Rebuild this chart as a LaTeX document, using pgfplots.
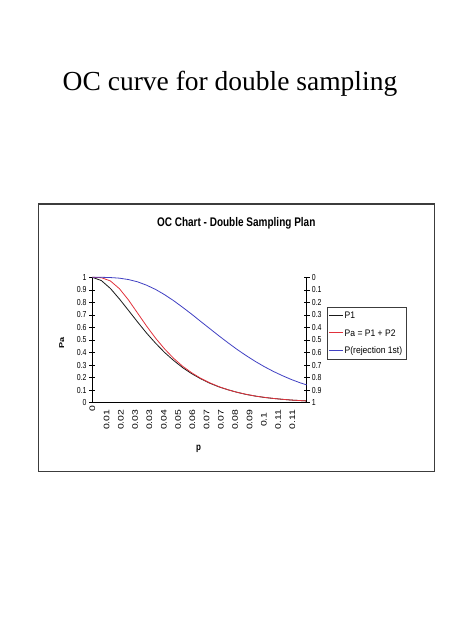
\documentclass[border=0pt]{standalone}
\usepackage{fontspec}
\usepackage{pgfplots}
\pgfplotsset{compat=1.18}
\usepackage{pgfplotstable}
\setmainfont{Liberation Sans}
\newfontfamily\slidefont{Liberation Serif}
\newfontfamily\cfn{Liberation Sans}[FakeStretch=0.8]
\newfontfamily\cfl{Liberation Sans}[FakeStretch=0.9]
\newfontfamily\cfr{Liberation Sans}[FakeStretch=1.3]

\definecolor{pone}{RGB}{25,25,25}
\definecolor{pa}{RGB}{225,50,60}
\definecolor{prej}{RGB}{65,65,195}
\definecolor{framec}{RGB}{60,60,60}

% p, P1 (accept on 1st sample), Pa = P1 + P2, P(rejection on 1st sample)
\pgfplotstableread{
p      P1     Pa     Rej
0      1.000  1.000  0.000
0.005  0.974  0.997  0.000
0.010  0.911  0.971  0.002
0.015  0.827  0.909  0.007
0.020  0.736  0.819  0.018
0.025  0.644  0.715  0.036
0.030  0.555  0.611  0.063
0.035  0.474  0.514  0.097
0.040  0.400  0.428  0.139
0.045  0.336  0.353  0.187
0.050  0.279  0.290  0.240
0.055  0.231  0.238  0.295
0.060  0.190  0.194  0.353
0.065  0.155  0.158  0.410
0.070  0.126  0.128  0.467
0.075  0.103  0.103  0.522
0.080  0.083  0.083  0.575
0.085  0.066  0.067  0.624
0.090  0.053  0.053  0.670
0.095  0.042  0.043  0.712
0.100  0.034  0.034  0.750
0.105  0.027  0.027  0.784
0.110  0.021  0.021  0.815
0.115  0.017  0.017  0.842
0.1185 0.014  0.014  0.858
}\octable

% legend key: a short coloured rule in front of the entry text
\newcommand{\key}[1]{\textcolor{#1}{\rule[2.9pt]{14pt}{0.9pt}}\hspace{1.7pt}}

\pgfplotsset{
  ocbase/.style={
    scale only axis, width=214.4pt, height=125.4pt,
    xmin=0, xmax=0.1185, ymin=0, ymax=1,
    clip=false,
    tick align=center, major tick length=6pt,
    tick style={black, line width=0.6pt},
    axis line style={black, line width=0.8pt},
    ytick={0,0.1,0.2,0.3,0.4,0.5,0.6,0.7,0.8,0.9,1},
    yticklabels={0,0.1,0.2,0.3,0.4,0.5,0.6,0.7,0.8,0.9,1},
  },
}

\begin{document}
\begin{tikzpicture}
\path[use as bounding box] (0pt,0pt) rectangle (474pt,631pt);

\node[anchor=base, font=\slidefont\fontsize{27.5}{30}\selectfont] at (230pt,540.3pt) {OC curve for double sampling};
\draw[framec, line width=1.3pt] (38.3pt,159.3pt) rectangle (434.3pt,427pt);
\node[anchor=base, font=\cfn\bfseries\fontsize{12.5}{14}\selectfont] at (236.2pt,404pt) {OC Chart - Double Sampling Plan};
\node[rotate=90, font=\cfr\bfseries\fontsize{7}{8}\selectfont] at (61.7pt,287.7pt) {Pa};
\node[font=\cfn\bfseries\fontsize{10}{11}\selectfont] at (198.5pt,182pt) {p};
% legend frame
\draw[framec, line width=0.9pt] (327.3pt,271.5pt) rectangle (406.5pt,323.3pt);

\begin{axis}[
  ocbase,
  at={(92.3pt,228.3pt)}, anchor=south west,
  axis x line*=bottom, axis y line*=left,
  xtick={0,0.0079,0.0158,0.0237,0.0316,0.0395,0.0474,0.0553,0.0632,0.0711,0.079,0.0869,0.0948,0.1027,0.1106},
  xticklabels={\hspace*{22pt}0,0.01,0.02,0.03,0.03,0.04,0.05,0.06,0.07,0.07,0.08,0.09,0.1,0.11,0.11},
  x tick style={draw=none},
  xticklabel style={yshift=-14pt, rotate=90, anchor=center, inner sep=0pt, font=\cfr\fontsize{8}{8}\selectfont},
  yticklabel style={anchor=east, inner sep=0pt, xshift=-2.5pt, font=\cfn\fontsize{8.7}{9}\selectfont},
]
\addplot[color=pone, line width=0.8pt] table[x=p, y=P1] {\octable};
\addplot[color=pa, line width=0.8pt] table[x=p, y=Pa] {\octable};
\end{axis}

\begin{axis}[
  ocbase,
  at={(92.3pt,228.3pt)}, anchor=south west,
  y dir=reverse,
  axis x line=none, axis y line*=right,
  yticklabel style={anchor=west, inner sep=0pt, xshift=2pt, font=\cfn\fontsize{8.7}{9}\selectfont},
  legend image code/.code={},
  legend cell align=left,
  legend style={at={(1.096,0.758)}, anchor=north west,
    draw=none, fill=none,
    font=\cfl\fontsize{9.5}{10}\selectfont,
    inner xsep=0.5pt, inner ysep=2.9pt, row sep=6.7pt,
    nodes={inner sep=1pt, text height=6.8pt, text depth=2pt},
    /tikz/every odd column/.append style={column sep=0pt}},
]
\addlegendimage{empty legend}
\addlegendentry{\key{pone}P1}
\addlegendimage{empty legend}
\addlegendentry{\key{pa}Pa = P1 + P2}
\addplot[color=prej, line width=0.8pt] table[x=p, y=Rej] {\octable};
\addlegendentry{\key{prej}P(rejection 1st)}
\end{axis}
\end{tikzpicture}
\end{document}
